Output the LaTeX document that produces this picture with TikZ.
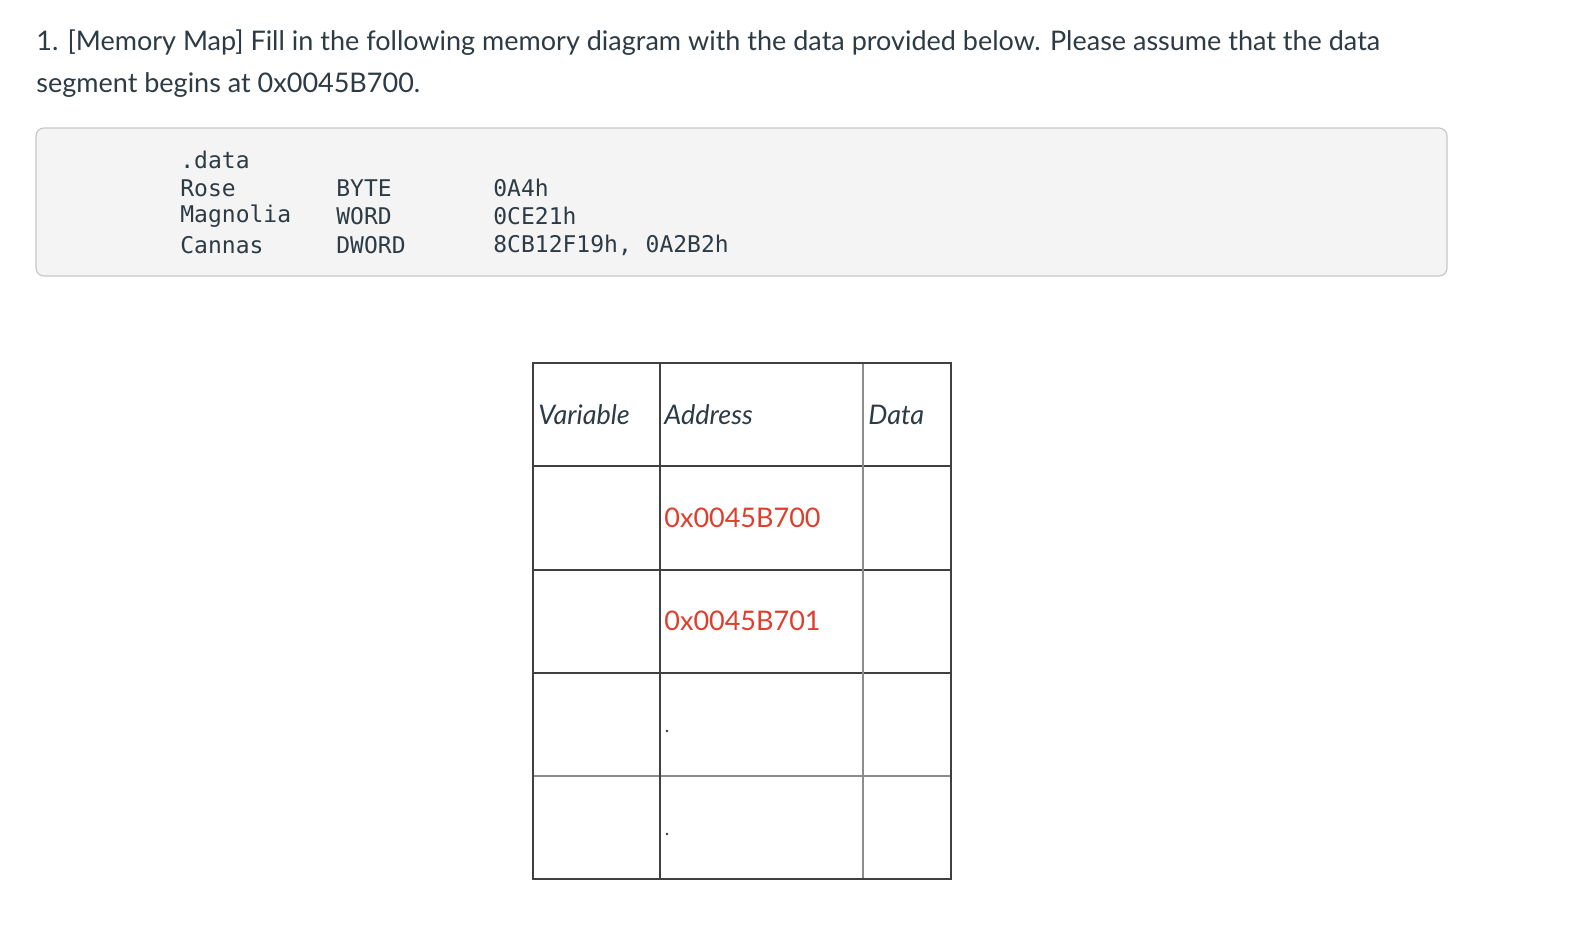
\documentclass[tikz,border=0pt]{standalone}
\usepackage{fontspec}
\setmainfont{Lato}
\setmonofont{DejaVu Sans Mono}
\definecolor{codebg}{HTML}{F4F4F4}
\definecolor{codeln}{HTML}{C8C8C8}
\definecolor{txt}{HTML}{2D3B45}
\definecolor{addr}{HTML}{E03E2D}
\tikzset{
 body/.style={anchor=west,inner sep=0pt,text=txt,font=\fontsize{13.5}{16}\selectfont},
 code/.style={anchor=west,inner sep=0pt,text=txt,font=\ttfamily\fontsize{11.5}{14}\selectfont},
 head/.style={anchor=west,inner sep=0pt,text=txt,font=\itshape\fontsize{13.5}{16}\selectfont},
 red/.style={anchor=west,inner sep=0pt,text=addr,font=\fontsize{13.5}{16}\selectfont},
 grid/.style={draw=black!75,line width=0.9pt},
 gridl/.style={draw=black!45,line width=0.6pt}
}
\begin{document}
\begin{tikzpicture}[x=0.5pt,y=-0.5pt]
\useasboundingbox[fill=white] (0,0) rectangle (1586,950);
\node[body] (t1) at (36,43) {1. [Memory Map] Fill in the following memory diagram with the data provided below. Please assume that the data};
\node[body] (t2) at (36,85) {segment begins at 0x0045B700.};
\draw[fill=codebg,draw=codeln,rounded corners=4pt,line width=0.6pt] (36,128) rectangle (1447,276);
\node[code] (c0) at (180,160) {.data};
\node[code] (c1) at (180,188) {Rose};
\node[code] (c2) at (180,216) {Magnolia};
\node[code] (c3) at (180,245) {Cannas};
\node[code] (d1) at (336,188) {BYTE};
\node[code] (d2) at (336,216) {WORD};
\node[code] (d3) at (336,245) {DWORD};
\node[code] (e1) at (493,188) {0A4h};
\node[code] (e2) at (493,216) {0CE21h};
\node[code] (e3) at (493,245) {8CB12F19h, 0A2B2h};
% table
\foreach \y in {466,570,673} \draw[grid] (533,\y) -- (951,\y);
\draw[gridl] (533,776) -- (951,776);
\draw[gridl] (863,363) -- (863,879);
\draw[grid] (660,363) -- (660,879);
\draw[grid] (533,363) rectangle (951,879);
\node[head] (h1) at (538,415) {Variable};
\node[head] (h2) at (664,415) {Address};
\node[head] (h3) at (868,415) {Data};
\node[red] (a1) at (664,518) {0x0045B700};
\node[red] (a2) at (664,621) {0x0045B701};
\fill[txt] (667,731) circle (1.3);
\fill[txt] (667,834) circle (1.3);
\end{tikzpicture}
\end{document}
